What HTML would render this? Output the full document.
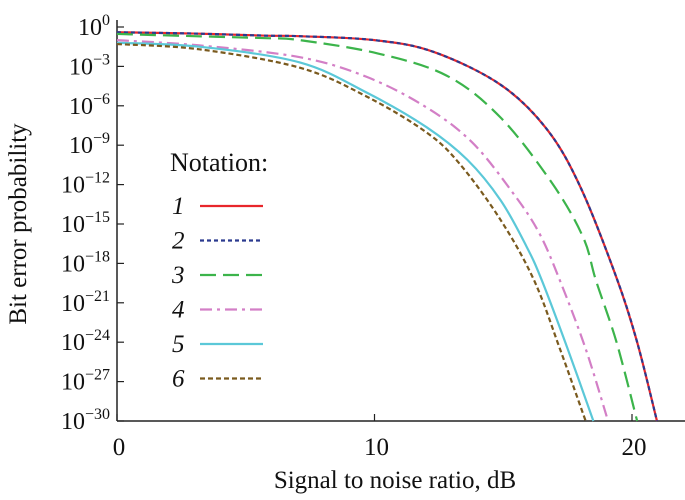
<!DOCTYPE html>
<html><head><meta charset="utf-8"><style>
body{margin:0;background:#fff}
svg{display:block;font-family:"Liberation Serif",serif}
</style></head><body>
<svg id="chart" width="685" height="500" xmlns="http://www.w3.org/2000/svg"></svg>
<script>
const xTicks=[0,10,20];
const yTickExps=[0,-3,-6,-9,-12,-15,-18,-21,-24,-27,-30];
const seriesNames=["1","2","3","4","5","6"];
const s1x=[0,3,5.8,7.1,10,12.3,14.9,16.7,18,19.4,20.2,20.97];
const s1y=[-0.4,-0.5,-0.66,-0.7,-1.0,-1.9,-4.4,-7.8,-12.2,-19.1,-24,-30];
const s3x=[0,3,5.8,7.1,10.1,12.8,14.9,16.9,18.1,18.6,19.4,20.2];
const s3y=[-0.53,-0.7,-0.85,-1.0,-2.0,-3.7,-6.9,-11.9,-16,-19.3,-24,-30];
const s4x=[0,3.2,7.1,9.7,12,13.8,15.4,16.4,17.2,18.2,19.07];
const s4y=[-1.0,-1.4,-2.3,-3.8,-6.1,-8.8,-12.7,-15.7,-19.3,-24.5,-30];
const s5x=[0,3.2,7.1,9.7,12,13.6,14.9,15.9,16.5,17.5,18.5];
const s5y=[-1.2,-1.5,-2.7,-5.0,-7.6,-10.1,-13.2,-16.7,-19.3,-24.5,-30];
const s6x=[0,3.2,7.1,9.7,12,13.3,14.9,16.2,17.2,18.2];
const s6y=[-1.3,-1.7,-3.1,-5.3,-8.0,-10.4,-14.7,-19.3,-24.5,-30];

const X=v=>117+v*25.75;
const Y=e=>27+(-e)*13.133;
const NS="http://www.w3.org/2000/svg";
const svg=document.getElementById('chart');
function mk(t,a){const e=document.createElementNS(NS,t);for(const k in a)e.setAttribute(k,a[k]);svg.appendChild(e);return e;}

let ax=mk('line',{x1:117,y1:20,x2:117,y2:421,stroke:'#222','stroke-width':1.5});


ax=mk('line',{x1:117,y1:421,x2:685,y2:421,stroke:'#222','stroke-width':1.5});



xTicks.forEach(v=>{
  const t=mk('line',{x1:X(v),y1:421,x2:X(v),y2:414,stroke:'#222','stroke-width':1.2});
  
  
  const l=mk('text',{x:X(v)+2,y:455,'font-size':25,'text-anchor':'middle',fill:'#111'});
  l.textContent=v;
  
  
});
yTickExps.forEach(e=>{
  const t=mk('line',{x1:117,y1:Y(e),x2:124,y2:Y(e),stroke:'#222','stroke-width':1.2});
  
  
  const l=mk('text',{x:110,y:Y(e)+8,'font-size':24,'text-anchor':'end',fill:'#111'});
  l.textContent='10';
  const s=document.createElementNS(NS,'tspan');
  s.setAttribute('dy','-10');s.setAttribute('font-size','16');
  s.textContent=e===0?'0':'\u2212'+(-e);
  l.appendChild(s);
  
  
});

const styles=[
 {xs:s1x,ys:s1y,c:'#e8262b',d:'',w:2.2},
 {xs:s1x,ys:s1y,c:'#2b3a8f',d:'4 3',w:2.2},
 {xs:s3x,ys:s3y,c:'#3cb44b',d:'16 7',w:2.2},
 {xs:s4x,ys:s4y,c:'#d37fc6',d:'12 5 3 5',w:2.2},
 {xs:s5x,ys:s5y,c:'#5bc8d8',d:'',w:2.2},
 {xs:s6x,ys:s6y,c:'#7a5a1e',d:'5 3',w:2.2}
];
function path(xs,ys){
  const p=xs.map((x,i)=>[X(x),Y(ys[i])]);
  let d='M'+p[0][0]+','+p[0][1];
  for(let i=0;i<p.length-1;i++){
    const p0=p[i-1]||p[i],p1=p[i],p2=p[i+1],p3=p[i+2]||p2;
    d+=' C'+(p1[0]+(p2[0]-p0[0])/6)+','+(p1[1]+(p2[1]-p0[1])/6)+' '+(p2[0]-(p3[0]-p1[0])/6)+','+(p2[1]-(p3[1]-p1[1])/6)+' '+p2[0]+','+p2[1];
  }
  return d;
}
styles.forEach((s,i)=>{
  const p=mk('path',{d:path(s.xs,s.ys),fill:'none',stroke:s.c,'stroke-width':s.w,'stroke-dasharray':s.d});
  
  
});

const lt=mk('text',{x:170,y:171,'font-size':26,fill:'#111'});
lt.textContent='Notation:';


styles.forEach((s,i)=>{
  const yy=206+i*34.5;
  const t=mk('text',{x:172,y:yy+8,'font-size':25,'font-style':'italic',fill:'#111'});
  t.textContent=seriesNames[i];
  
  
  const l=mk('line',{x1:200,y1:yy,x2:263,y2:yy,stroke:s.c,'stroke-width':s.w,'stroke-dasharray':s.d});
  
  
});

const xt=mk('text',{x:395,y:488,'font-size':25,'text-anchor':'middle',fill:'#111'});
xt.textContent='Signal to noise ratio, dB';


const yt=mk('text',{x:0,y:0,'font-size':25,'text-anchor':'middle',fill:'#111',transform:'translate(26,224) rotate(-90)'});
yt.textContent='Bit error probability';


</script>
</body></html>
